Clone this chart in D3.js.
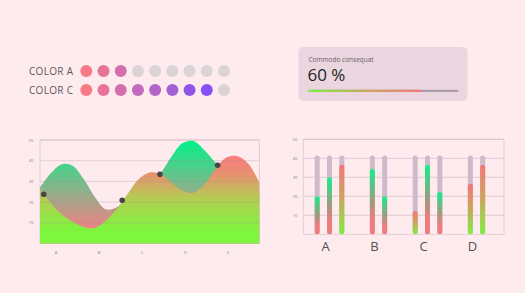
<!DOCTYPE html>
<html><head><meta charset="utf-8">
<script src="https://cdn.jsdelivr.net/npm/d3@7"></script>
<style>
html,body{margin:0;padding:0;background:#fdebee;}
svg{display:block;font-family:"Open Sans","Noto Sans",sans-serif;}
</style></head>
<body>
<svg id="c" width="525" height="293"></svg>
<script>
// ---------- DATA ----------
const legendRows = ["COLOR A", "COLOR C"];
const legendFilled = [3, 8];
const legendDotCount = 9;
const legendPalette = ["#f77a86", "#e7739a", "#d36fae", "#c26abc", "#b165c6", "#a160d4", "#9054e8", "#8550f6"];

const cardTitle = "Commodo consequat";
const cardValue = 60;
const cardBarShare = 0.756;

const areaCategories = ["A", "B", "C", "D", "E"];
const areaYTicks = [10, 20, 30, 40, 50];
const areaSteps = d3.range(21);
const series1 = [27, 34, 38.3, 37.5, 31, 22.5, 16.5, 17.5, 22.5, 26, 29.5, 34, 42, 48.5, 49.5, 45, 39, 33, 28, 25, 24];
const series2 = [26.7, 19.5, 14, 10.5, 8, 7.5, 11, 16.5, 24, 31, 34.3, 33.4, 29.5, 25.5, 24.5, 28.5, 36, 41.5, 42.2, 38.5, 29.5];
const markerStep = [0.34, 7.5, 10.94, 16.2];
const markerValue = [23.8, 20.9, 33.4, 37.8];

const barCategories = ["A", "B", "C", "D"];
const barYTicks = [10, 20, 30, 40, 50];
const barTrack = 41.5;
const barValues = [[20, 30, 36.6], [34.4, 20], [12.3, 36.5, 22.3], [26.6, 36.6]];
const barStyle = [["g", "g", "r"], ["g", "g"], ["r", "g", "g"], ["r", "r"]];

// ---------- DRAW ----------
const svg = d3.select("#c");
const defs = svg.append("defs");

function lin(id, stops, attrs) {
  const g = defs.append("linearGradient").attr("id", id);
  Object.entries(attrs).forEach(([k, v]) => g.attr(k, v));
  stops.forEach(([o, c]) => g.append("stop").attr("offset", o).attr("stop-color", c));
}

// Legend
legendRows.forEach((label, i) => {
  const y = 71 + i * 19;
  svg.append("text").attr("x", 29).attr("y", y + 3.5).attr("font-size", 10).attr("fill", "#5e585c")
    .attr("letter-spacing", 0.3).text(label);
  const xs = d3.scalePoint().domain(d3.range(legendDotCount)).range([86.3, 224]);
  svg.append("g").selectAll("circle").data(d3.range(legendDotCount)).join("circle")
    .attr("cx", d => xs(d)).attr("cy", y).attr("r", 6)
    .attr("fill", d => d < legendFilled[i] ? legendPalette[d] : "#dcd3d7");
});

// Card
svg.append("rect").attr("x", 298.5).attr("y", 47).attr("width", 169).attr("height", 54).attr("rx", 5)
  .attr("fill", "#ebd6df");
svg.append("text").attr("x", 308.5).attr("y", 62).attr("font-size", 6.5).attr("fill", "#6a6268").text(cardTitle);
svg.append("text").attr("x", 307.5).attr("y", 81).attr("font-size", 17).attr("fill", "#222").text(cardValue + " %");
const pb = d3.scaleLinear().domain([0, 1]).range([308.3, 458.3]);
lin("pg", [[0, "#7cf040"], [0.5, "#c8a860"], [1, "#f87878"]], {x1: 0, y1: 0, x2: 1, y2: 0});
svg.append("rect").attr("x", pb(0)).attr("y", 89.7).attr("width", pb(1) - pb(0)).attr("height", 2.2).attr("rx", 1)
  .attr("fill", "#a89cac");
svg.append("rect").attr("x", pb(0)).attr("y", 89.7).attr("width", pb(cardBarShare) - pb(0)).attr("height", 2.2).attr("rx", 1)
  .attr("fill", "url(#pg)");

// ---------- Area chart ----------
const ax = d3.scaleLinear().domain([0, areaSteps.length - 1]).range([40, 259.3]);
const ay = d3.scaleLinear().domain([0, 50]).range([243.5, 140]);
const axLabel = d3.scalePoint().domain(areaCategories).range([56, 228.3]);

const ag = svg.append("g");
ag.append("rect").attr("x", ax(0)).attr("y", ay(50)).attr("width", ax(20) - ax(0)).attr("height", ay(0) - ay(50))
  .attr("fill", "none").attr("stroke", "#ddc8d2").attr("stroke-width", 0.8);
ag.selectAll(".yl").data(areaYTicks).join("text")
  .attr("x", 31).attr("y", d => ay(d) + 1.5).attr("text-anchor", "middle")
  .attr("font-size", 4).attr("fill", "#8a8088").text(d => d);
ag.selectAll(".xl").data(areaCategories).join("text")
  .attr("x", d => axLabel(d)).attr("y", 254).attr("text-anchor", "middle")
  .attr("font-size", 4).attr("fill", "#8a8088").text(d => d);

lin("a1", [[0, "#00f28a"], [0.55, "#8fb08a"], [1, "#fb7c84"]],
  {gradientUnits: "userSpaceOnUse", x1: 0, x2: 0, y1: ay(50), y2: ay(5)});
lin("a2", [[0, "#fb7a80"], [0.25, "#e89070"], [0.6, "#b0d050"], [1, "#7ef53e"]],
  {gradientUnits: "userSpaceOnUse", x1: 0, x2: 0, y1: ay(43), y2: ay(6)});

const area = vals => d3.area().x((d, i) => ax(i)).y0(ay(0)).y1(d => ay(d)).curve(d3.curveCatmullRom.alpha(0.5))(vals);
ag.append("path").attr("d", area(series1)).attr("fill", "url(#a1)");
ag.append("path").attr("d", area(series2)).attr("fill", "url(#a2)");
ag.selectAll(".gl").data(areaYTicks).join("line")
  .attr("x1", ax(0)).attr("x2", ax(20)).attr("y1", d => ay(d)).attr("y2", d => ay(d))
  .attr("stroke", "#a08898").attr("stroke-opacity", 0.35).attr("stroke-width", 0.8);
ag.selectAll(".mk").data(markerStep).join("circle")
  .attr("cx", d => ax(d)).attr("cy", (d, i) => ay(markerValue[i])).attr("r", 2.8)
  .attr("fill", "#4a4448");

// ---------- Bar chart ----------
const bx = d3.scaleBand().domain(barCategories).range([301, 497]);
const by = d3.scaleLinear().domain([0, 50]).range([234.3, 139.3]);
const bg = svg.append("g");
bg.append("rect").attr("x", 303.3).attr("y", by(50)).attr("width", 504 - 303.3).attr("height", by(0) - by(50))
  .attr("fill", "none").attr("stroke", "#ddc8d2").attr("stroke-width", 0.8);
bg.selectAll(".gl").data(barYTicks).join("line")
  .attr("x1", 303.3).attr("x2", 504).attr("y1", d => by(d)).attr("y2", d => by(d))
  .attr("stroke", "#d8c2cd").attr("stroke-width", 0.8);
bg.selectAll(".yl").data(barYTicks).join("text")
  .attr("x", 295).attr("y", d => by(d) + 1.5).attr("text-anchor", "middle")
  .attr("font-size", 4).attr("fill", "#8a8088").text(d => d);
bg.selectAll(".xl").data(barCategories).join("text")
  .attr("x", d => bx(d) + bx.bandwidth() / 2).attr("y", 250.5).attr("text-anchor", "middle")
  .attr("font-size", 13).attr("fill", "#555055").text(d => d);

lin("bg", [[0, "#12f08a"], [0.5, "#a09a80"], [0.78, "#f07c80"], [1, "#f07c80"]], {x1: 0, y1: 0, x2: 0, y2: 1});
lin("br", [[0, "#f57576"], [0.45, "#d0a060"], [1, "#7ef040"]], {x1: 0, y1: 0, x2: 0, y2: 1});

const bw = 5, sub = 12.3;
barCategories.forEach((cat, ci) => {
  const vals = barValues[ci];
  const center = bx(cat) + bx.bandwidth() / 2 + 4;
  vals.forEach((v, j) => {
    const cx = center + (j - (vals.length - 1) / 2) * sub;
    bg.append("rect").attr("x", cx - bw / 2).attr("y", by(barTrack)).attr("width", bw)
      .attr("height", by(0) - by(barTrack)).attr("rx", 2.5).attr("fill", "#cfbac9");
    bg.append("rect").attr("x", cx - bw / 2).attr("y", by(v)).attr("width", bw)
      .attr("height", by(0) - by(v)).attr("rx", 2.5)
      .attr("fill", barStyle[ci][j] === "g" ? "url(#bg)" : "url(#br)");
  });
});
</script>
</body></html>
